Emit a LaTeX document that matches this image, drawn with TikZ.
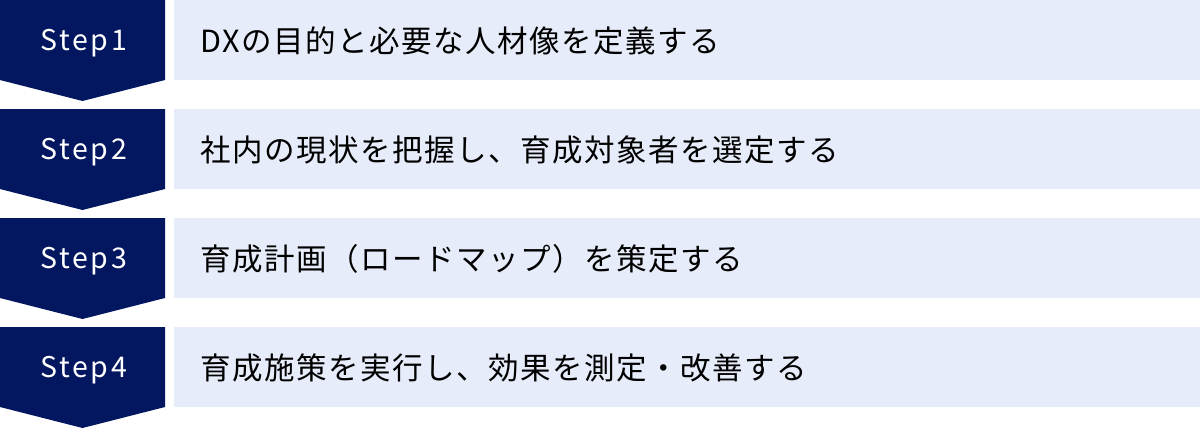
\documentclass[tikz,border=0pt]{standalone}
\usepackage{fontspec}
\setmainfont{Noto Sans CJK JP}
\newfontfamily\barfont[LetterSpace=5]{Noto Sans CJK JP}
\newfontfamily\stepfont[LetterSpace=9]{Noto Sans CJK JP}
\definecolor{navy}{RGB}{3,22,96}
\definecolor{pale}{RGB}{230,236,249}
\tikzset{
  stepshape/.style={fill=navy,draw=none},
  barshape/.style={fill=pale,draw=none},
  steplabel/.style={text=white,font=\stepfont\fontsize{28.5}{32}\selectfont,inner sep=0pt,anchor=center},
  bartext/.style={text=black,font=\barfont\fontsize{30.5}{36}\selectfont,inner sep=0pt,anchor=west}
}
\begin{document}
\begin{tikzpicture}[x=1pt,y=-1pt]
\useasboundingbox (0,0) rectangle (1200,429);
\foreach \i/\t in {0/{DXの目的と必要な人材像を定義する},1/{社内の現状を把握し、育成対象者を選定する},2/{育成計画（ロードマップ）を策定する},3/{育成施策を実行し、効果を測定・改善する}}{
  \pgfmathsetmacro{\top}{\i*109}
  \fill[stepshape] (0,\top) -- (165,\top) -- (165,\top+80) -- (82.5,\top+101) -- (0,\top+80) -- cycle;
  \fill[barshape] (174,\top) rectangle (1200,\top+80);
  \pgfmathtruncatemacro{\n}{\i+1}
  \node[steplabel] (step\n) at (84,\top+43) {Step\n};
  \node[bartext] (text\n) at (200,\top+41) {\t};
}
\end{tikzpicture}
\end{document}
